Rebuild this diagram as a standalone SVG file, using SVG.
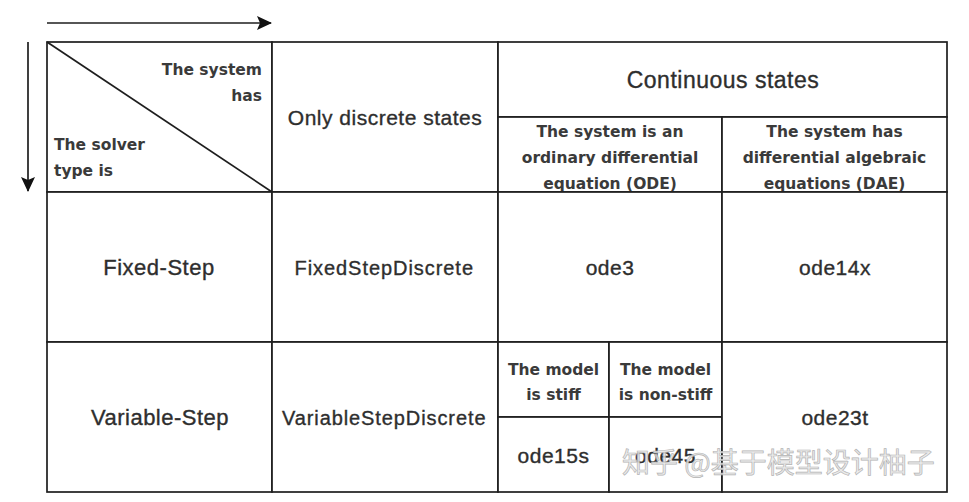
<svg xmlns="http://www.w3.org/2000/svg" width="969" height="502" viewBox="0 0 969 502">
  <style>
    .cell { fill: #ffffff; stroke: #1e1e1e; stroke-width: 1.7; }
    .ln { stroke: #1e1e1e; stroke-width: 1.7; fill: none; }
    .sm { font-family: "DejaVu Sans", "Noto Sans", sans-serif; font-weight: bold; font-size: 15.5px; fill: #3a3a3a; }
    .lg { font-family: "Liberation Sans", Arial, sans-serif; font-size: 21px; fill: #2e2e2e; stroke: #2e2e2e; stroke-width: 0.35; letter-spacing: 0.5px; }
    .mid { text-anchor: middle; }
    .wm { font-family: "Noto Sans CJK SC", "Noto Sans", sans-serif; font-size: 28px; fill: #e8e8e8; fill-opacity: 0.85; stroke: #b4b4b4; stroke-width: 0.7; }
  </style>
  <defs>
    <marker id="arrow" viewBox="0 0 15 14" refX="14" refY="7" markerWidth="15" markerHeight="14" markerUnits="userSpaceOnUse" orient="auto">
      <path d="M0,0 L15,7 L0,14 L3,7 Z" fill="#111111"/>
    </marker>
  </defs>
  <rect x="0" y="0" width="969" height="502" fill="#ffffff"/>

  <g id="connectors">
    <line class="ln" x1="47" y1="23" x2="271" y2="23" marker-end="url(#arrow)"/>
    <line class="ln" x1="28" y1="42" x2="28" y2="191" marker-end="url(#arrow)"/>
  </g>

  <g id="header-corner">
    <rect class="cell" x="47" y="42" width="225" height="150"/>
    <line class="ln" x1="47" y1="42" x2="272" y2="192"/>
    <text class="sm" x="262" y="75" text-anchor="end">The system</text>
    <text class="sm" x="262" y="101" text-anchor="end">has</text>
    <text class="sm" x="54" y="150">The solver</text>
    <text class="sm" x="54" y="176">type is</text>
  </g>

  <g id="header-discrete">
    <rect class="cell" x="272" y="42" width="226" height="150"/>
    <text class="lg mid" x="385" y="125">Only discrete states</text>
  </g>

  <g id="header-continuous">
    <rect class="cell" x="498" y="42" width="449" height="75"/>
    <text class="lg mid" x="723" y="88" style="font-size:23px">Continuous states</text>
  </g>

  <g id="header-ode">
    <rect class="cell" x="498" y="117" width="224" height="75"/>
    <text class="sm mid" x="610" y="137">The system is an</text>
    <text class="sm mid" x="610" y="163">ordinary differential</text>
    <text class="sm mid" x="610" y="189">equation (ODE)</text>
  </g>

  <g id="header-dae">
    <rect class="cell" x="722" y="117" width="225" height="75"/>
    <text class="sm mid" x="834.5" y="137">The system has</text>
    <text class="sm mid" x="834.5" y="163">differential algebraic</text>
    <text class="sm mid" x="834.5" y="189">equations (DAE)</text>
  </g>

  <g id="row-fixed">
    <rect class="cell" x="47" y="192" width="225" height="150"/>
    <text class="lg mid" x="159" y="275" style="font-size:22px">Fixed-Step</text>
  </g>
  <g id="fixed-discrete">
    <rect class="cell" x="272" y="192" width="226" height="150"/>
    <text class="lg mid" x="384" y="275" style="font-size:20px" textLength="179" lengthAdjust="spacing">FixedStepDiscrete</text>
  </g>
  <g id="fixed-ode">
    <rect class="cell" x="498" y="192" width="224" height="150"/>
    <text class="lg mid" x="610" y="275">ode3</text>
  </g>
  <g id="fixed-dae">
    <rect class="cell" x="722" y="192" width="225" height="150"/>
    <text class="lg mid" x="835" y="275">ode14x</text>
  </g>

  <g id="row-variable">
    <rect class="cell" x="47" y="342" width="225" height="150"/>
    <text class="lg mid" x="160" y="425" style="font-size:22px">Variable-Step</text>
  </g>
  <g id="variable-discrete">
    <rect class="cell" x="272" y="342" width="226" height="150"/>
    <text class="lg mid" x="384" y="425" style="font-size:20px" textLength="204" lengthAdjust="spacing">VariableStepDiscrete</text>
  </g>
  <g id="stiff-header">
    <rect class="cell" x="498" y="342" width="111" height="75"/>
    <text class="sm mid" x="553.5" y="375">The model</text>
    <text class="sm mid" x="553.5" y="400">is stiff</text>
  </g>
  <g id="nonstiff-header">
    <rect class="cell" x="609" y="342" width="113" height="75"/>
    <text class="sm mid" x="665.5" y="375">The model</text>
    <text class="sm mid" x="665.5" y="400">is non-stiff</text>
  </g>
  <g id="stiff-solver">
    <rect class="cell" x="498" y="417" width="111" height="75"/>
    <text class="lg mid" x="553.5" y="463">ode15s</text>
  </g>
  <g id="nonstiff-solver">
    <rect class="cell" x="609" y="417" width="113" height="75"/>
    <text class="lg mid" x="665.5" y="463">ode45</text>
  </g>
  <g id="variable-dae">
    <rect class="cell" x="722" y="342" width="225" height="150"/>
    <text class="lg mid" x="835" y="425">ode23t</text>
  </g>

  <text class="wm" x="622" y="473">知乎 @基于模型设计柚子</text>
</svg>
